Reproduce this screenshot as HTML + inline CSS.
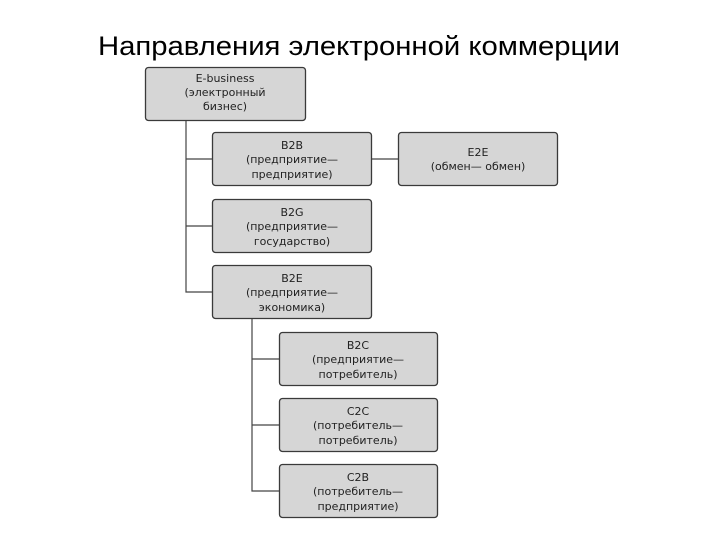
<!DOCTYPE html>
<html><head><meta charset="utf-8"><style>
html,body{margin:0;padding:0;background:#fff;width:720px;height:540px;overflow:hidden}
svg{display:block}
.b{fill:#d6d6d6;stroke:#3a3a3a;stroke-width:1.3}
.t{font-family:"DejaVu Sans","Liberation Sans",sans-serif;font-size:11px;fill:#222;text-anchor:middle}
.l{stroke:#444;stroke-width:1.2;fill:none}
</style></head><body>
<svg width="720" height="540" viewBox="0 0 720 540">
<text x="359" y="55" font-family="'Liberation Sans',sans-serif" font-size="27" text-anchor="middle" textLength="522" lengthAdjust="spacingAndGlyphs" fill="#000">Направления электронной коммерции</text>
<path class="l" d="M186 120V292H213M186 159H213M186 226H213M372 159H398M252 318V491H279M252 359H279M252 425H279"/>
<rect class="b" x="145.5" y="67.5" width="160" height="53" rx="3"/>
<text class="t" x="225" y="82">E-business</text><text class="t" x="225" y="96">(электронный</text><text class="t" x="225" y="110">бизнес)</text>

<rect class="b" x="212.5" y="132.5" width="159" height="53" rx="3"/>
<text class="t" x="292" y="149">B2B</text><text class="t" x="292" y="163">(предприятие—</text><text class="t" x="292" y="178">предприятие)</text>

<rect class="b" x="398.5" y="132.5" width="159" height="53" rx="3"/>
<text class="t" x="478" y="156">E2E</text><text class="t" x="478" y="170">(обмен— обмен)</text>

<rect class="b" x="212.5" y="199.5" width="159" height="53" rx="3"/>
<text class="t" x="292" y="216">B2G</text><text class="t" x="292" y="230">(предприятие—</text><text class="t" x="292" y="245">государство)</text>

<rect class="b" x="212.5" y="265.5" width="159" height="53" rx="3"/>
<text class="t" x="292" y="282">B2E</text><text class="t" x="292" y="296">(предприятие—</text><text class="t" x="292" y="311">экономика)</text>

<rect class="b" x="279.5" y="332.5" width="158" height="53" rx="3"/>
<text class="t" x="358" y="349">B2C</text><text class="t" x="358" y="363">(предприятие—</text><text class="t" x="358" y="378">потребитель)</text>

<rect class="b" x="279.5" y="398.5" width="158" height="53" rx="3"/>
<text class="t" x="358" y="415">C2C</text><text class="t" x="358" y="429">(потребитель—</text><text class="t" x="358" y="444">потребитель)</text>

<rect class="b" x="279.5" y="464.5" width="158" height="53" rx="3"/>
<text class="t" x="358" y="481">C2B</text><text class="t" x="358" y="495">(потребитель—</text><text class="t" x="358" y="510">предприятие)</text>
</svg>
</body></html>
